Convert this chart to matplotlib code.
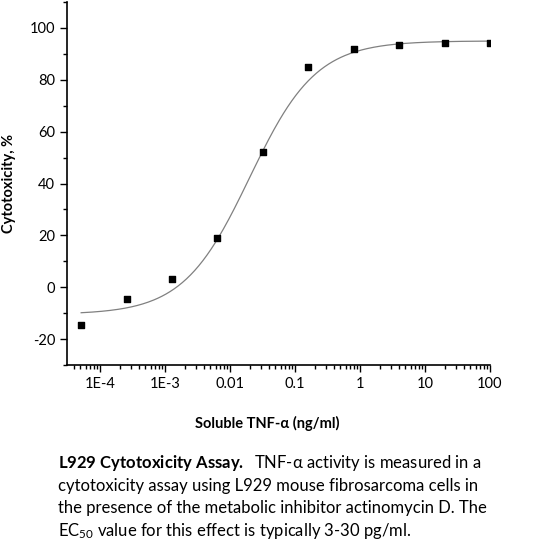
import matplotlib
matplotlib.use("Agg")
import matplotlib.pyplot as plt
import numpy as np
from matplotlib.ticker import FixedLocator, LogLocator, MultipleLocator, NullFormatter

plt.rcParams["font.family"] = ["Lato", "DejaVu Sans"]
plt.rcParams["axes.unicode_minus"] = False
plt.rcParams["mathtext.fontset"] = "custom"
plt.rcParams["mathtext.rm"] = "Lato"
plt.rcParams["mathtext.it"] = "Lato:italic"
plt.rcParams["mathtext.bf"] = "Lato:bold"

# measured points (5-fold dilution series)
conc = [5.12e-5, 2.56e-4, 1.28e-3, 6.4e-3, 0.032, 0.16, 0.8, 4, 20, 100]
cytotox = [-14.5, -4.5, 3.0, 19.0, 52.0, 85.0, 92.0, 93.5, 94.0, 94.0]

# 4-parameter logistic fit
fit_bottom, fit_top, fit_ec50, fit_hill = -10.5, 95.0, 0.02, 0.85

xtick_vals = [1e-4, 1e-3, 0.01, 0.1, 1, 10, 100]
xtick_labels = ["1E-4", "1E-3", "0.01", "0.1", "1", "10", "100"]

fig = plt.figure(figsize=(5.34, 5.40), dpi=100)
ax = fig.add_axes([67 / 534, 1 - 365 / 540, (490 - 67) / 534, (365 - 2) / 540])

xs = np.logspace(np.log10(conc[0]), np.log10(conc[-1]), 300)
ys = fit_bottom + (fit_top - fit_bottom) / (1 + (fit_ec50 / xs) ** fit_hill)
ax.plot(xs, ys, color="#808080", lw=0.9)
ax.scatter(conc, cytotox, marker="s", s=22, color="black", zorder=3)

ax.set_xscale("log")
ax.set_xlim(3.1e-5, 100)
ax.set_ylim(-30, 110)
ax.xaxis.set_major_locator(FixedLocator(xtick_vals))
ax.set_xticklabels(xtick_labels)
ax.xaxis.set_minor_locator(LogLocator(base=10, subs=np.arange(2, 10)))
ax.xaxis.set_minor_formatter(NullFormatter())
ax.yaxis.set_major_locator(FixedLocator([-20, 0, 20, 40, 60, 80, 100]))
ax.yaxis.set_minor_locator(MultipleLocator(10))
ax.tick_params(which="both", direction="out", labelsize=10.5, width=1)
ax.tick_params(which="major", length=5)
ax.tick_params(which="minor", length=3)
for side in ("top", "right"):
    ax.spines[side].set_visible(False)
for side in ("left", "bottom"):
    ax.spines[side].set_linewidth(1.2)

ax.set_ylabel("Cytotoxicity, %", fontsize=10.5, fontweight="bold", labelpad=10)
fig.text(0.5, 1 - 423 / 540, "Soluble TNF-α (ng/ml)", ha="center", va="center",
         fontsize=10.5, fontweight="bold")

cap_x = 58 / 534
lines_y = [463, 486, 508, 531]
fig.text(cap_x, 1 - lines_y[0] / 540,
         r"$\mathbf{L929\ Cytotoxicity\ Assay.}$  TNF-α activity is measured in a",
         fontsize=12, va="center")
fig.text(cap_x, 1 - lines_y[1] / 540, "cytotoxicity assay using L929 mouse fibrosarcoma cells in",
         fontsize=12, va="center")
fig.text(cap_x, 1 - lines_y[2] / 540, "the presence of the metabolic inhibitor actinomycin D. The",
         fontsize=12, va="center")
fig.text(cap_x, 1 - lines_y[3] / 540, r"EC$_{50}$ value for this effect is typically 3-30 pg/ml.",
         fontsize=12, va="center")

fig.savefig("out.png", dpi=100)
